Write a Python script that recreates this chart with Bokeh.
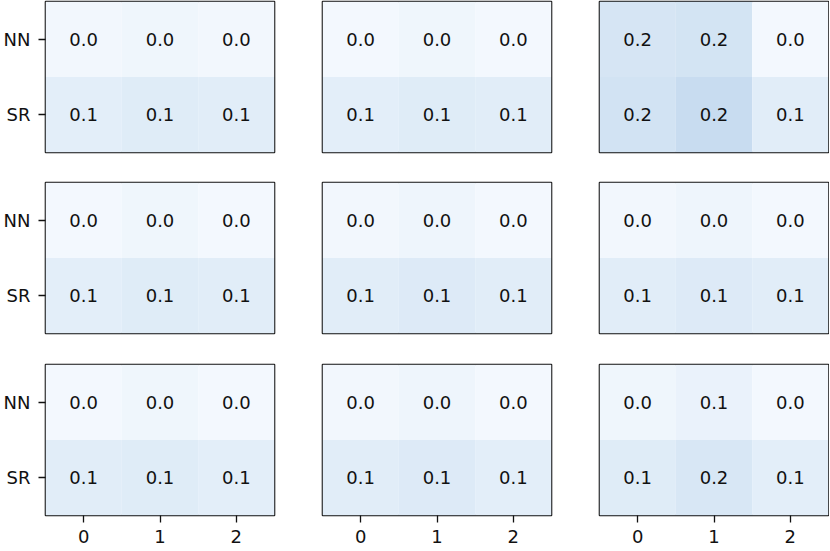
from bokeh.plotting import figure
from bokeh.layouts import gridplot
from bokeh.models import ColumnDataSource, FactorRange, Range1d, FixedTicker
from bokeh.palettes import Blues256
from bokeh.transform import linear_cmap
from bokeh.core.properties import value
from bokeh.embed import file_html
from bokeh.resources import INLINE

rows = ["NN", "SR"]
cols = [0, 1, 2]

# one entry per panel, panels read left to right, top to bottom
nn_values = [
    [0.03, 0.04, 0.03], [0.02, 0.04, 0.02], [0.17, 0.18, 0.02],
    [0.02, 0.04, 0.02], [0.03, 0.045, 0.02], [0.03, 0.045, 0.02],
    [0.02, 0.04, 0.02], [0.03, 0.045, 0.02], [0.04, 0.07, 0.02],
]
sr_values = [
    [0.10, 0.12, 0.11], [0.10, 0.12, 0.11], [0.19, 0.24, 0.11],
    [0.10, 0.12, 0.11], [0.11, 0.13, 0.11], [0.11, 0.13, 0.11],
    [0.11, 0.12, 0.10], [0.11, 0.13, 0.10], [0.12, 0.16, 0.10],
]

FONT = value("DejaVu Sans")


def panel(i, r, c):
    left = 45 if c == 0 else 24
    right = 1 if c == 2 else 24
    top = 1
    bottom = 35 if r == 2 else (29 if r == 0 else 30)
    p = figure(width=left + 229 + right, height=top + 151 + bottom,
               x_range=Range1d(-0.5, 2.5),
               y_range=FactorRange(factors=rows[::-1], range_padding=0),
               x_axis_location="below" if r == 2 else None,
               y_axis_location="left" if c == 0 else None,
               output_backend="svg", toolbar_location=None,
               min_border_left=left, min_border_right=right,
               min_border_top=top, min_border_bottom=bottom)
    xs, ys, vs = [], [], []
    for name, vals in zip(rows, [nn_values[i], sr_values[i]]):
        for k, v in zip(cols, vals):
            xs.append(k)
            ys.append(name)
            vs.append(v)
    src = ColumnDataSource(dict(x=xs, y=ys, v=vs, label=["%.1f" % v for v in vs]))
    p.rect("x", "y", width=1, height=1, source=src, line_color=None,
           fill_color=linear_cmap("v", list(reversed(Blues256)), 0, 1))
    p.text("x", "y", text="label", source=src, text_align="center",
           text_baseline="middle", text_font_size="18px", text_font=FONT,
           text_color="#111111")
    p.grid.visible = False
    p.outline_line_color = "#111111"
    p.outline_line_width = 1.6
    p.outline_line_alpha = 1
    for ax in p.axis:
        ax.axis_line_color = None
        ax.major_tick_out = 7
        ax.major_tick_in = 0
        ax.major_tick_line_width = 1.3
        ax.major_tick_line_color = "#111111"
        ax.minor_tick_line_color = None
        ax.major_label_text_font = "DejaVu Sans"
        ax.major_label_text_font_size = "18px"
        ax.major_label_text_color = "#111111"
    if r == 2:
        p.xaxis.ticker = FixedTicker(ticks=cols)
        p.xaxis.major_label_standoff = 7
    if c == 0:
        p.yaxis.major_label_standoff = 8
    return p


grid = [[panel(r * 3 + c, r, c) for c in range(3)] for r in range(3)]
p = gridplot(grid, toolbar_location=None)

open("out.html", "w").write(file_html(p, INLINE))
